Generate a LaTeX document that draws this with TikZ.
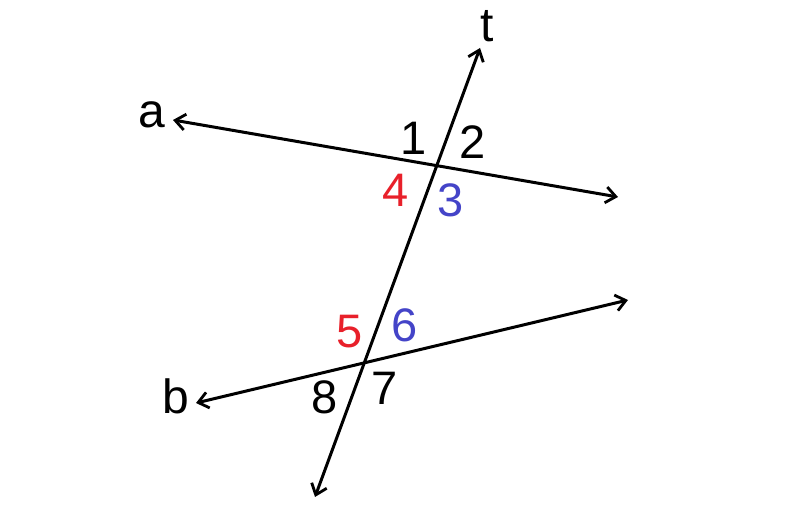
\documentclass[tikz,border=0pt]{standalone}
\usepackage{fontspec}
\setmainfont{Liberation Sans}
\usetikzlibrary{arrows.meta}
\definecolor{redlab}{RGB}{232,32,42}
\definecolor{bluelab}{RGB}{68,68,200}
\begin{document}
\begin{tikzpicture}[x=1pt,y=-1pt,
  lineab/.style={line width=3pt,{Straight Barb[length=10pt,width=16pt,line width=2.8pt]}-{Straight Barb[length=10pt,width=16pt,line width=2.8pt]}},
  lab/.style={inner sep=0pt,font=\fontsize{48}{50}\selectfont},
  num/.style={inner sep=0pt,font=\fontsize{47}{50}\selectfont}]
\useasboundingbox (0,0) rectangle (788,510);
\coordinate (aL) at (173,120);
\coordinate (aR) at (618,197);
\coordinate (bL) at (196,403);
\coordinate (bR) at (628,300);
\coordinate (tT) at (480,48);
\coordinate (tB) at (315,497);
\draw[lineab] (aL) -- (aR);
\draw[lineab] (bL) -- (bR);
\draw[lineab] (tT) -- (tB);
\node[lab] (la) at (152,115) {a};
\node[lab] (lt) at (487,26) {t};
\node[lab] (lb) at (176,396) {b};
\node[num] (n1) at (414,138) {1};
\node[num] (n2) at (473,142) {2};
\node[num,text=redlab] (n4) at (396,190) {4};
\node[num,text=bluelab] (n3) at (451,200) {3};
\node[num,text=redlab] (n5) at (350,332) {5};
\node[num,text=bluelab] (n6) at (405,325) {6};
\node[num] (n8) at (325,397) {8};
\node[num] (n7) at (385,388) {7};
\end{tikzpicture}
\end{document}
